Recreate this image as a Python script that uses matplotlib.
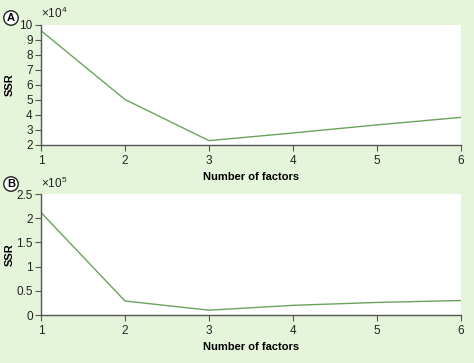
import matplotlib
matplotlib.use("Agg")
import matplotlib.pyplot as plt

factors = [1, 2, 3, 4, 5, 6]
ssr_a = [9.62, 5.03, 2.29, 2.80, 3.34, 3.84]   # x 10^4
ssr_b = [2.12, 0.29, 0.10, 0.20, 0.26, 0.30]   # x 10^5
yticks_a = [2, 3, 4, 5, 6, 7, 8, 9, 10]
yticks_b = [0, 0.5, 1, 1.5, 2, 2.5]
ytlabels_b = ["0", "0.5", "1", "1.5", "2", "2.5"]

bg = "#e4f5da"
line_c = "#6aa35c"
axis_c = "#555555"

plt.rcParams['font.family'] = ['Liberation Sans', 'DejaVu Sans']
plt.rcParams['mathtext.fontset'] = 'custom'
plt.rcParams['mathtext.rm'] = 'Liberation Sans'
plt.rcParams['mathtext.it'] = 'Liberation Sans'
plt.rcParams['mathtext.bf'] = 'Liberation Sans:bold'

fig = plt.figure(figsize=(4.74, 3.63), dpi=100, facecolor=bg)

def style(ax):
    ax.set_facecolor("white")
    for s in ["top", "right"]:
        ax.spines[s].set_visible(False)
    for s in ["left", "bottom"]:
        ax.spines[s].set_color(axis_c)
        ax.spines[s].set_linewidth(1.0)
    ax.tick_params(direction="out", length=4, width=0.8, color=axis_c,
                   labelsize=8.5, pad=2, labelcolor="#222222")
    ax.tick_params(axis="x", pad=3)
    ax.set_xlim(1, 6)
    ax.set_xlabel("Number of factors", fontsize=8, fontweight="bold", labelpad=4)
    ax.set_ylabel("SSR", fontsize=8, fontweight="bold")
    ax.yaxis.set_label_coords(-0.062, 0.5)

axA = fig.add_axes([0.0865, 0.6006, 0.886, 0.3306])
axA.plot(factors, ssr_a, color=line_c, lw=1.0)
axA.set_ylim(2, 10)
axA.set_xticks(factors)
axA.set_yticks(yticks_a)
style(axA)
axA.text(0.0, 1.03, r"$\mathregular{\times10^4}$", transform=axA.transAxes, fontsize=8.5,
         ha="left", va="bottom", color="#222222")

axB = fig.add_axes([0.0865, 0.1322, 0.886, 0.333])
axB.plot(factors, ssr_b, color=line_c, lw=1.0)
axB.set_ylim(0, 2.5)
axB.set_xticks(factors)
axB.set_yticks(yticks_b)
axB.set_yticklabels(ytlabels_b)
style(axB)
axB.text(0.0, 1.03, r"$\mathregular{\times10^5}$", transform=axB.transAxes, fontsize=8.5,
         ha="left", va="bottom", color="#222222")

for lab, y in [("A", 1 - 18 / 363), ("B", 1 - 184 / 363)]:
    fig.text(11 / 474, y, lab, fontsize=8, fontweight="bold", ha="center", va="center",
             bbox=dict(boxstyle="circle,pad=0.2", fc="white", ec="#222222", lw=1.0))

fig.savefig("out.png", dpi=100, facecolor=bg)
